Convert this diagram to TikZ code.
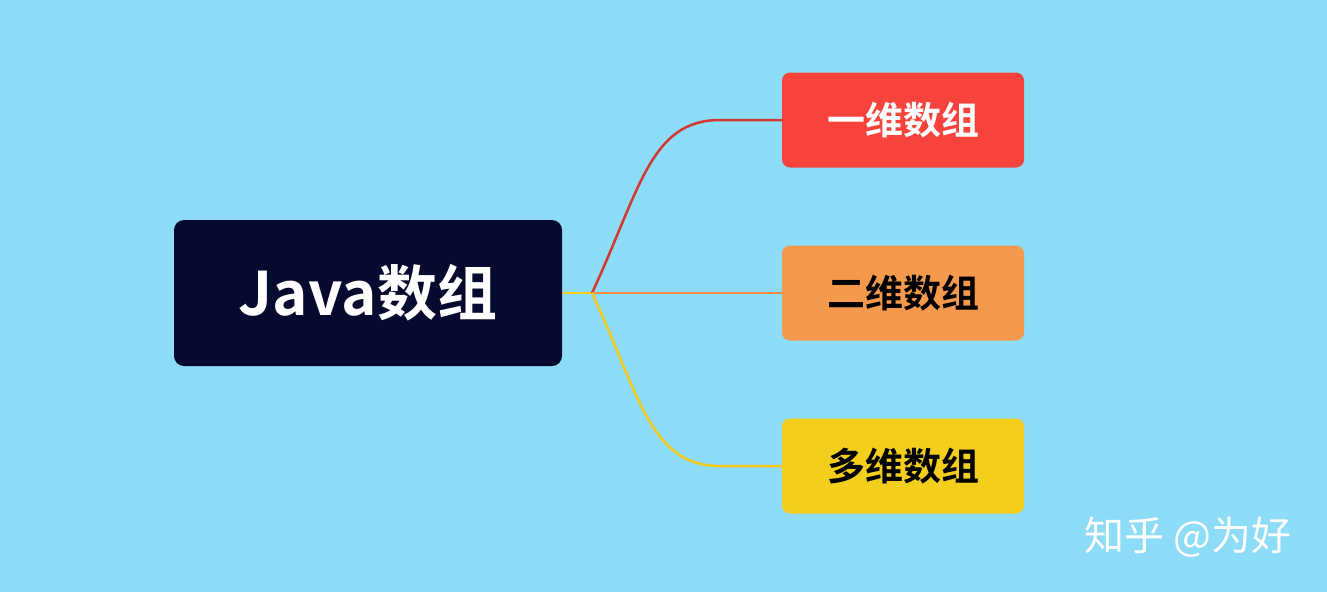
\documentclass[tikz,border=0pt]{standalone}
\usepackage{fontspec}
\setmainfont{Noto Sans CJK SC}[BoldFont={Noto Sans CJK SC Bold}]
\newfontfamily\cjkb{Noto Sans CJK SC Bold}
\definecolor{bg}{HTML}{8DDCF8}
\definecolor{navy}{HTML}{050A2E}
\definecolor{cred}{HTML}{F8423C}
\definecolor{corange}{HTML}{F59A4C}
\definecolor{cyellow}{HTML}{F4CE1C}
\begin{document}
\begin{tikzpicture}[x=1pt,y=-1pt,
  leaf/.style={rounded corners=8pt,minimum width=242pt,minimum height=95pt,inner sep=0pt,font=\cjkb\fontsize{38}{38}\selectfont},
  link/.style={line width=2.5pt}]
\fill[bg] (0,0) rectangle (1327,592);
\useasboundingbox (0,0) rectangle (1327,592);
\node[fill=navy,rounded corners=10pt,minimum width=388pt,minimum height=146pt,inner sep=0pt,text=white,font=\cjkb\fontsize{60}{60}\selectfont] (root) at (368,293) {Java数组};
\node[leaf,fill=cred,text=white] (a) at (903,120) {一维数组};
\node[leaf,fill=corange,text=black] (b) at (903,293) {二维数组};
\node[leaf,fill=cyellow,text=black] (c) at (903,466) {多维数组};
\coordinate (hub) at (592,293);
\draw[link,cyellow] (root.east) -- (hub);
\draw[link,cred!85!black] (hub) .. controls (640,190) and (650,120) .. (720,120) -- (a.west);
\draw[link,corange!90!red] (hub) -- (b.west);
\draw[link,cyellow!95!orange] (hub) .. controls (640,396) and (650,466) .. (720,466) -- (c.west);
\node[text=white,font=\fontsize{40}{40}\selectfont] (wm) at (1188,537) {知乎 @为好};
\end{tikzpicture}
\end{document}
